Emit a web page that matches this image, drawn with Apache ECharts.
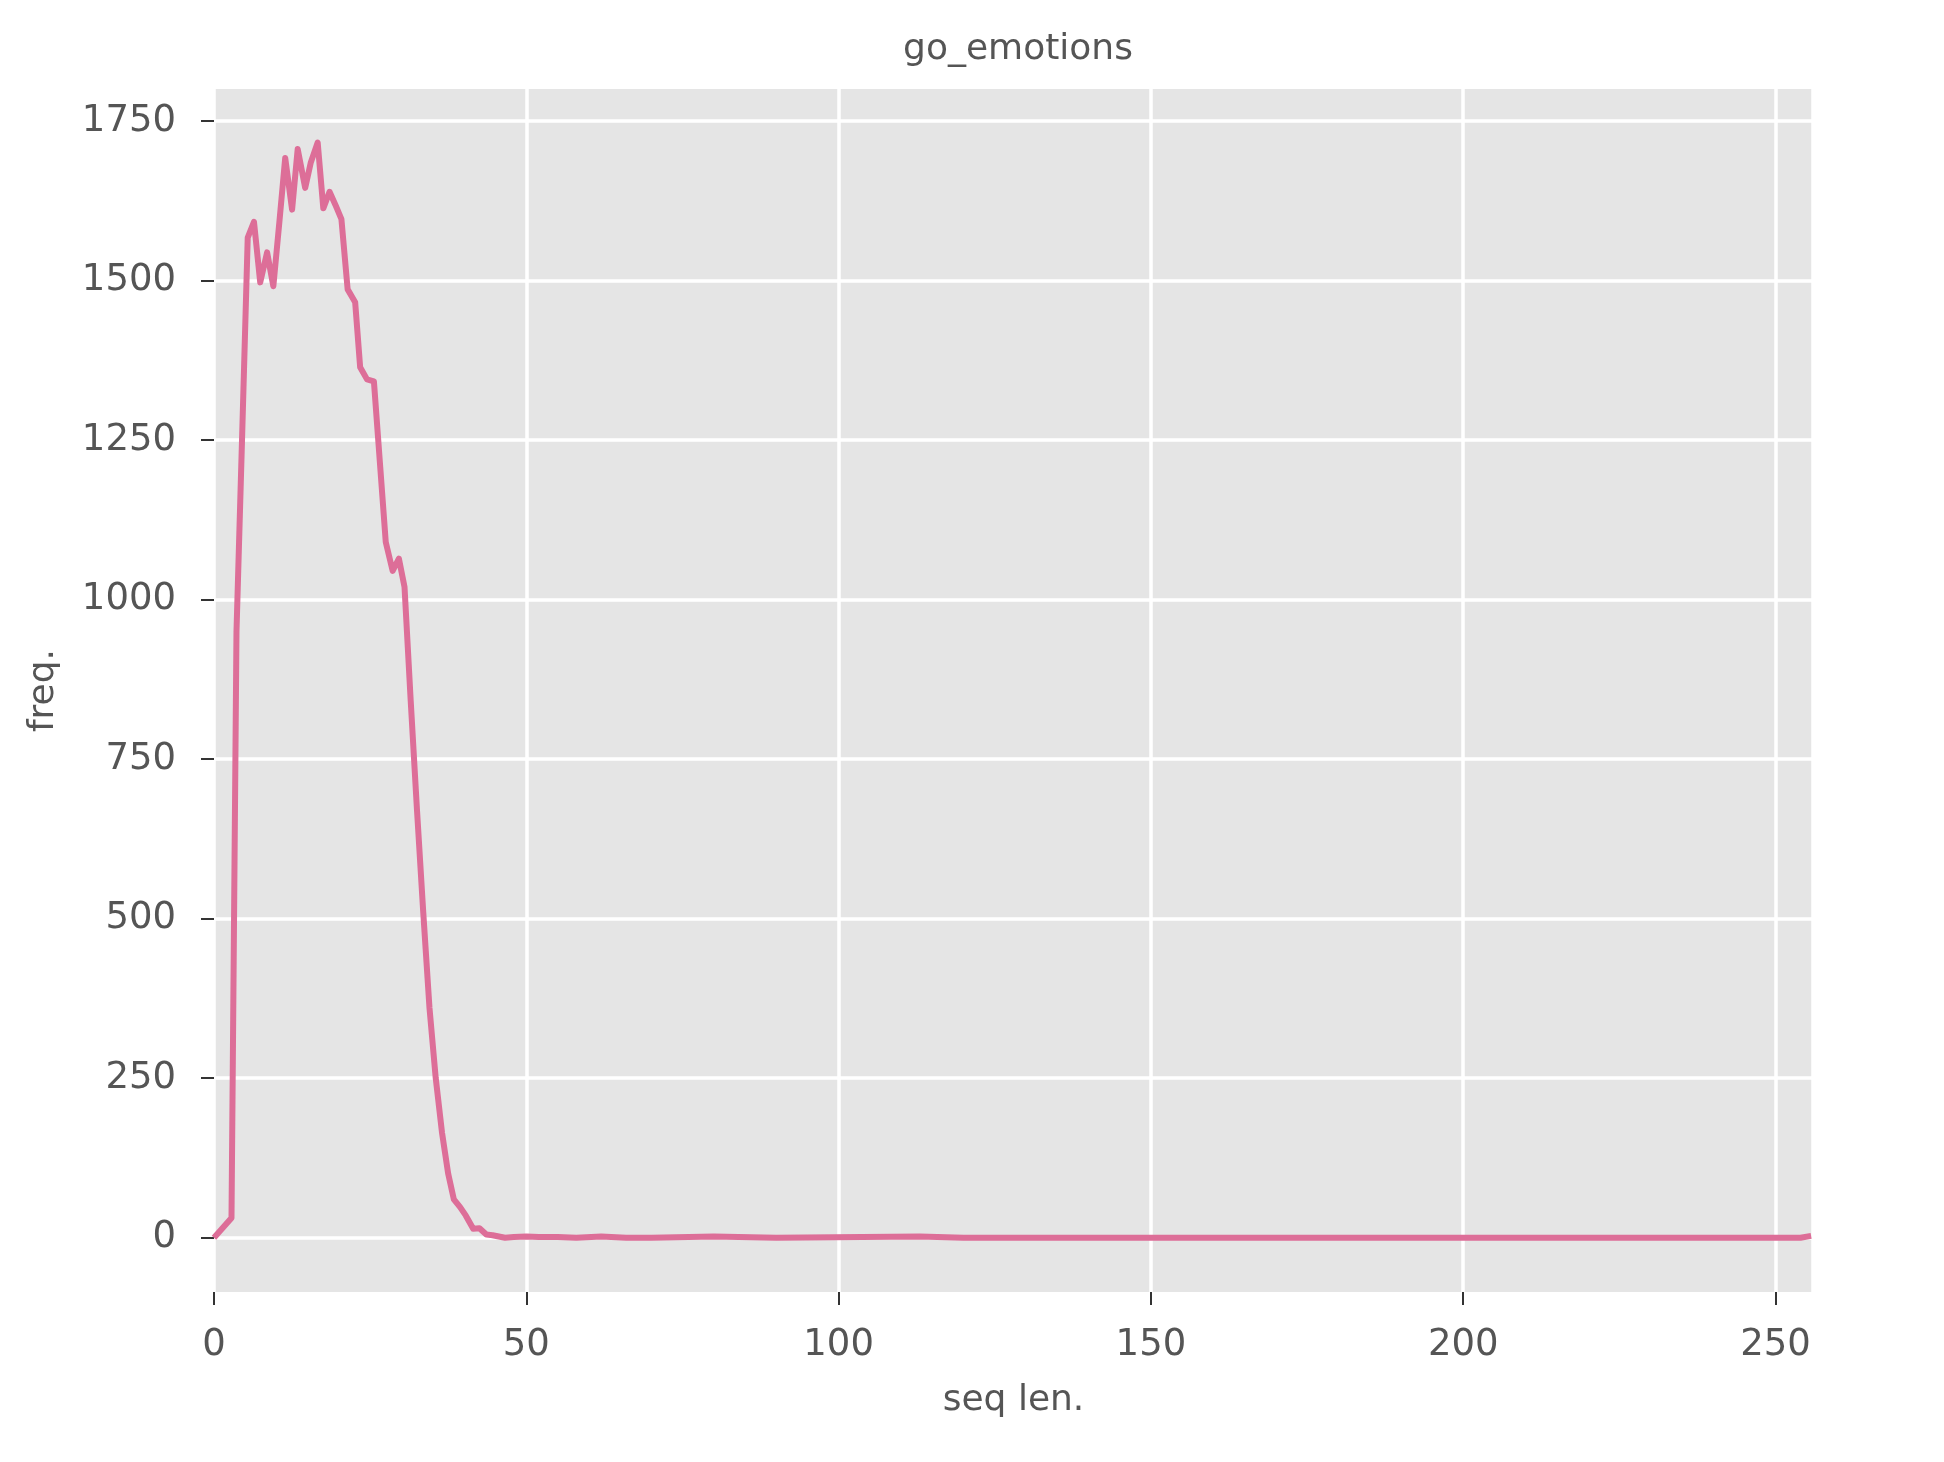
<!DOCTYPE html>
<html>
<head>
<meta charset="utf-8">
<script src="https://cdn.jsdelivr.net/npm/echarts@6/dist/echarts.min.js"></script>
<style>
html,body{margin:0;padding:0;background:#fff;}
#chart{width:1944px;height:1462px;}
</style>
</head>
<body>
<div id="chart"></div>
<script>
const chartTitle = 'go_emotions';
const xName = 'seq len.';
const yName = 'freq.';
const xTicks = [0, 50, 100, 150, 200, 250];
const yTicks = [0, 250, 500, 750, 1000, 1250, 1500, 1750];
const seqLen = [0, 2.8, 3.6, 4.5, 5.4, 6.4, 7.4, 8.5, 9.5, 10.5, 11.4, 12.5, 13.4, 14.6, 15.5, 16.6, 17.5, 18.5, 19.5, 20.4, 21.4, 22.6, 23.4, 24.5, 25.6, 27.5, 28.6, 29.6, 30.5, 31.5, 32.5, 33.5, 34.5, 35.5, 36.5, 37.5, 38.4, 39.4, 40.3, 41.5, 42.5, 43.6, 44.6, 45.6, 46.6, 48, 50, 52, 55, 58, 62, 66, 70, 80, 90, 113, 120, 150, 200, 254, 255.7];
const freq = [0, 31, 950, 1255, 1567, 1592, 1497, 1544, 1491, 1595, 1692, 1611, 1706, 1645, 1685, 1716, 1613, 1639, 1617, 1596, 1486, 1466, 1364, 1345, 1342, 1090, 1045, 1064, 1020, 840, 670, 510, 360, 250, 165, 100, 60, 48, 35, 14, 15, 5, 4, 2, 0, 1, 2, 1, 1, 0, 2, 0, 0, 2, 0, 2, 0, 0, 0, 0, 3];

const data = seqLen.map((x, i) => [x, freq[i]]);
const chart = echarts.init(document.getElementById('chart'), null, {renderer: 'canvas'});
const fontFamily = 'DejaVu Sans';
const grey = '#555555';
chart.setOption({
  animation: false,
  backgroundColor: '#ffffff',
  title: {
    text: chartTitle, left: 1013, top: 27, textAlign: 'center',
    textStyle: {fontFamily, fontSize: 36, fontWeight: 'normal', color: grey}
  },
  grid: {left: 214, top: 89, width: 1599, height: 1203, show: true, backgroundColor: '#E5E5E5', borderWidth: 0},
  xAxis: {
    type: 'value', min: 0, max: 256, interval: 50,
    name: xName, nameLocation: 'middle', nameGap: 91,
    nameTextStyle: {fontFamily, fontSize: 36, color: grey},
    axisLine: {show: false, onZero: false},
    axisTick: {show: true, length: 13, lineStyle: {color: '#333333', width: 2}},
    axisLabel: {fontFamily, fontSize: 37, color: grey, margin: 35, showMaxLabel: false,
      formatter: v => xTicks.includes(v) ? String(v) : ''},
    splitLine: {show: true, lineStyle: {color: '#ffffff', width: 3.5}}
  },
  yAxis: {
    type: 'value', min: -85, max: 1800,
    name: yName, nameLocation: 'middle', nameGap: 152, nameRotate: 90,
    nameTextStyle: {fontFamily, fontSize: 36, color: grey},
    axisLine: {show: false, onZero: false},
    axisTick: {show: true, length: 13, customValues: yTicks, lineStyle: {color: '#333333', width: 2}},
    axisLabel: {fontFamily, fontSize: 37, color: grey, margin: 38, customValues: yTicks,
      formatter: v => String(v)},
    splitLine: {show: true, lineStyle: {color: '#ffffff', width: 3.5}}
  },
  series: [{
    type: 'line', data: data, showSymbol: false, symbol: 'none',
    lineStyle: {color: '#DD6E98', width: 6, join: 'round'},
    clip: true
  }]
});
</script>
</body>
</html>
